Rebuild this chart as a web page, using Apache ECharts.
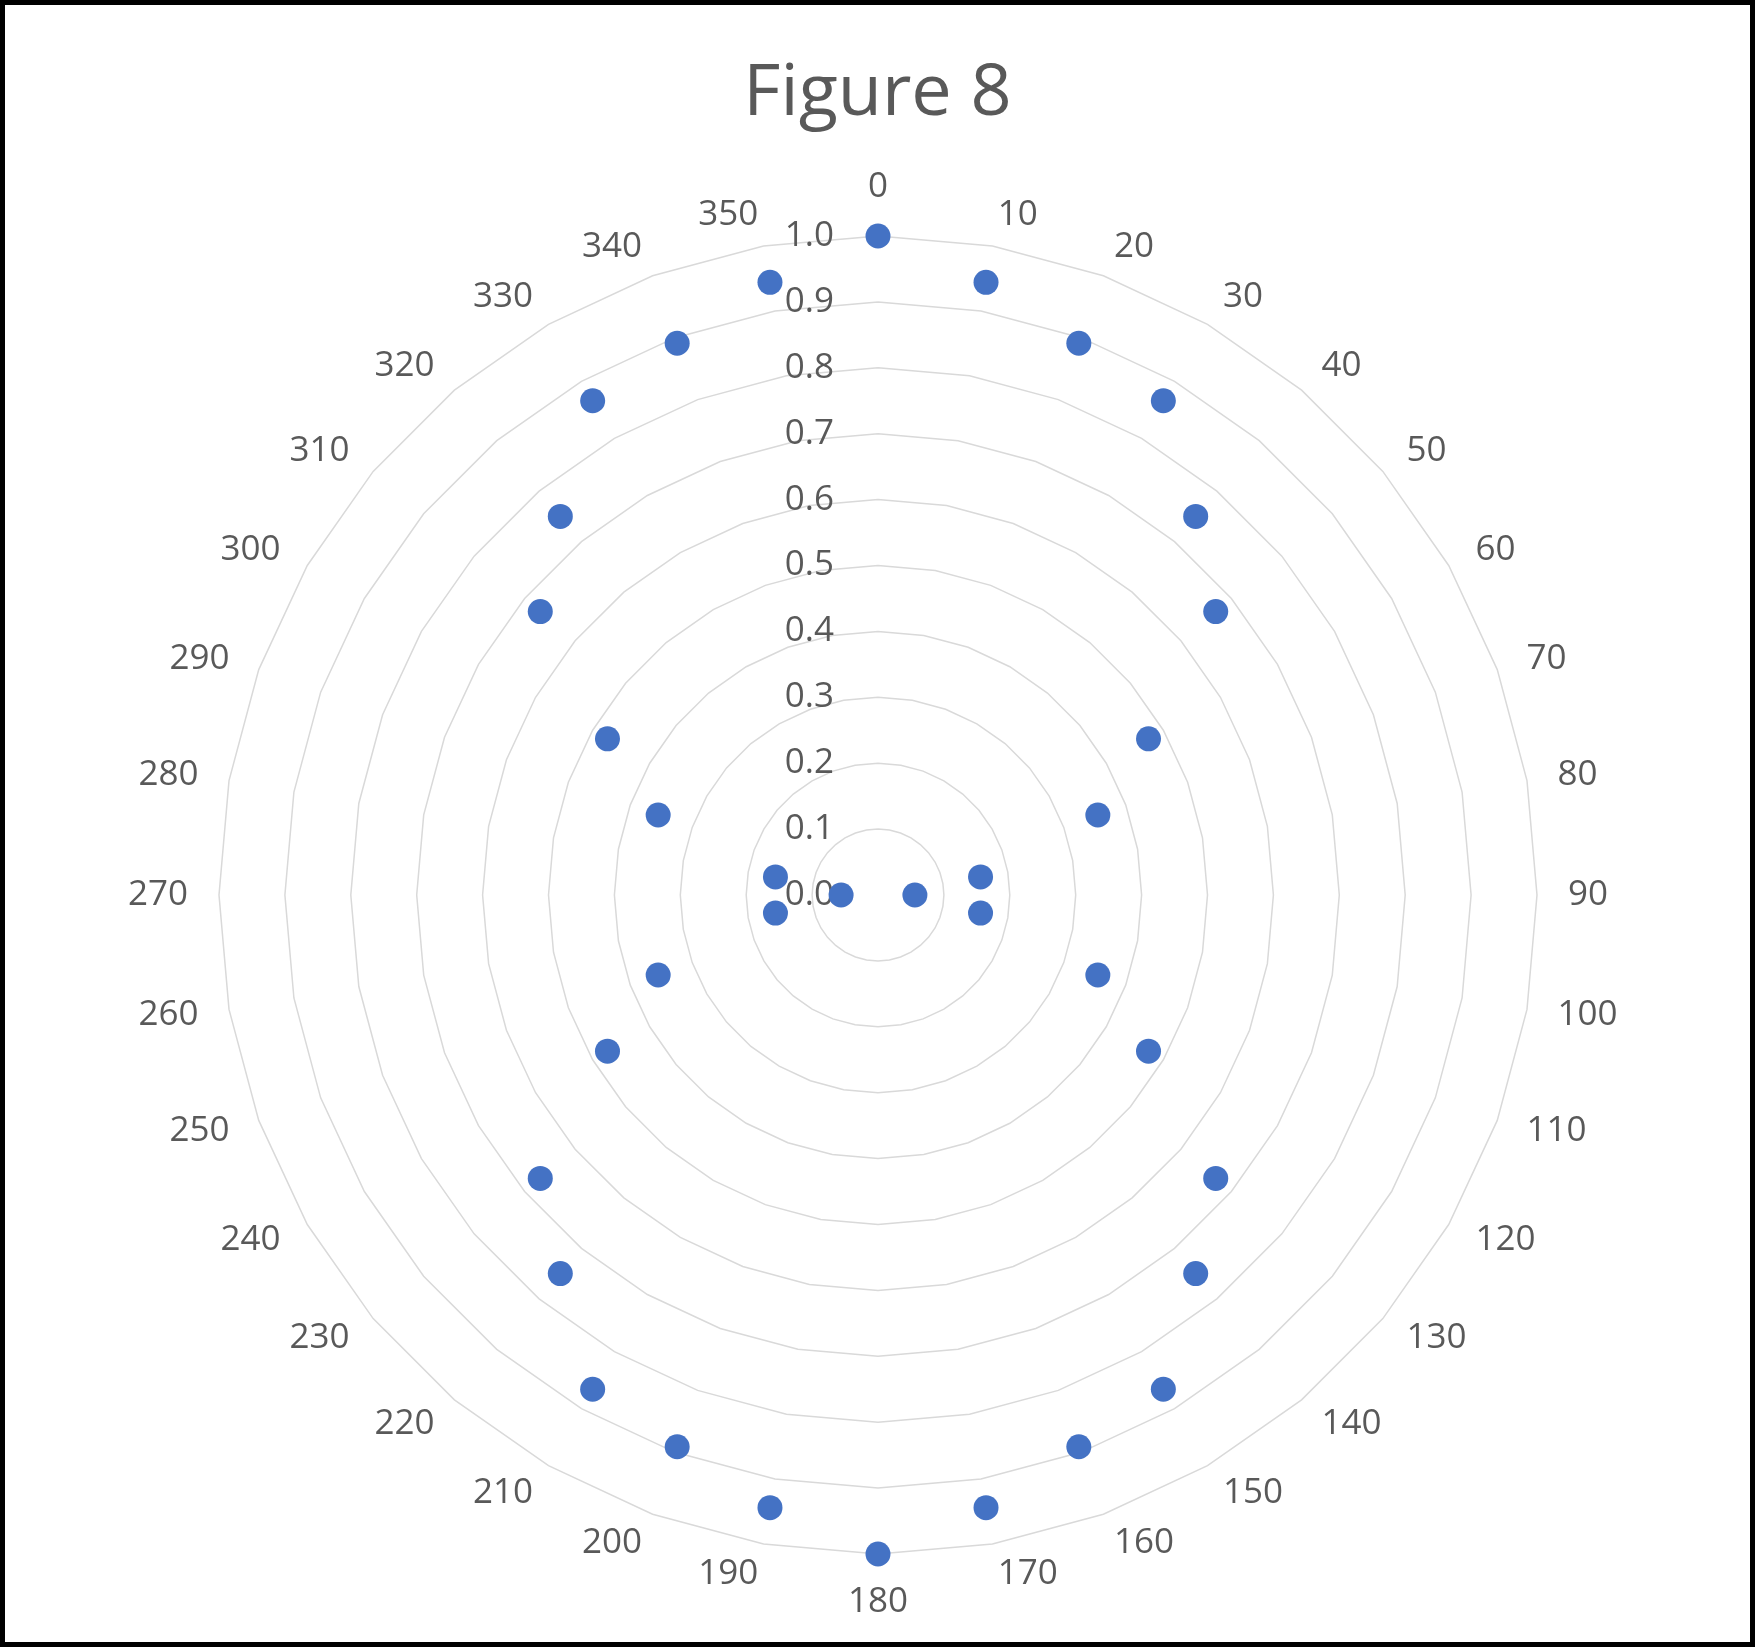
<!DOCTYPE html>
<html>
<head>
<meta charset="utf-8">
<title>Figure 8</title>
<script src="https://cdn.jsdelivr.net/npm/echarts@6/dist/echarts.min.js"></script>
<style>
  html, body { margin: 0; padding: 0; background: #fff; }
  #wrap { position: relative; width: 1755px; height: 1647px; }
  #chart { position: absolute; left: 0; top: 0; width: 1755px; height: 1647px; }
  #frame { position: absolute; left: 0; top: 0; width: 1755px; height: 1647px;
           box-sizing: border-box; border: 5px solid #000; pointer-events: none; }
</style>
</head>
<body>
<div id="wrap">
  <div id="chart"></div>
  <div id="frame"></div>
</div>
<script>
// angle categories (degrees), clockwise from the top
var angles = ['0','10','20','30','40','50','60','70','80','90','100','110',
              '120','130','140','150','160','170','180','190','200','210','220','230',
              '240','250','260','270','280','290','300','310','320','330','340','350'];
// value at each angle
var values = [1.000, 0.944, 0.891, 0.866, 0.750, 0.669, 0.474, 0.355, 0.158,
              0.056, 0.158, 0.355, 0.474, 0.669, 0.750, 0.866, 0.891, 0.944,
              1.000, 0.944, 0.891, 0.866, 0.750, 0.669, 0.474, 0.355, 0.158,
              0.056, 0.158, 0.355, 0.474, 0.669, 0.750, 0.866, 0.891, 0.944];
var radialTicks = ['0.0','0.1','0.2','0.3','0.4','0.5','0.6','0.7','0.8','0.9','1.0'];

// echarts lays radar axes out counter-clockwise, so walk the angles backwards after 0
var order = [0];
for (var i = angles.length - 1; i > 0; i--) order.push(i);

var indicators = order.map(function (k, n) {
    var ind = { name: angles[k], min: 0, max: 1 };
    if (n === 0) ind.axisLabel = { show: true };
    return ind;
});
var seriesData = order.map(function (k) { return values[k]; });

var txt = '#595959';
var font = '"Open Sans", "Noto Sans", sans-serif';

var chart = echarts.init(document.getElementById('chart'));
chart.setOption({
    animation: false,
    title: {
        text: 'Figure 8',
        left: 'center',
        top: 53,
        textStyle: { fontSize: 72, fontWeight: 'normal', color: txt, fontFamily: font }
    },
    radar: {
        center: [878, 895],
        radius: 659,
        startAngle: 90,
        shape: 'polygon',
        splitNumber: 10,
        indicator: indicators,
        nameGap: 31,
        axisName: { color: txt, fontSize: 35, fontFamily: font },
        axisLine: { show: false },
        axisTick: { show: false },
        axisLabel: {
            show: false,
            color: txt,
            fontSize: 35,
            fontFamily: font,
            margin: 44,
            formatter: function (v) { return radialTicks[Math.round(v * 10)]; }
        },
        splitLine: { lineStyle: { color: '#d9d9d9', width: 1.5 } },
        splitArea: { show: false }
    },
    series: [{
        type: 'radar',
        symbol: 'circle',
        symbolSize: 25,
        lineStyle: { width: 0, opacity: 0 },
        itemStyle: { color: '#4472C4' },
        data: [{ value: seriesData, name: 'Figure 8' }]
    }]
});
</script>
</body>
</html>
